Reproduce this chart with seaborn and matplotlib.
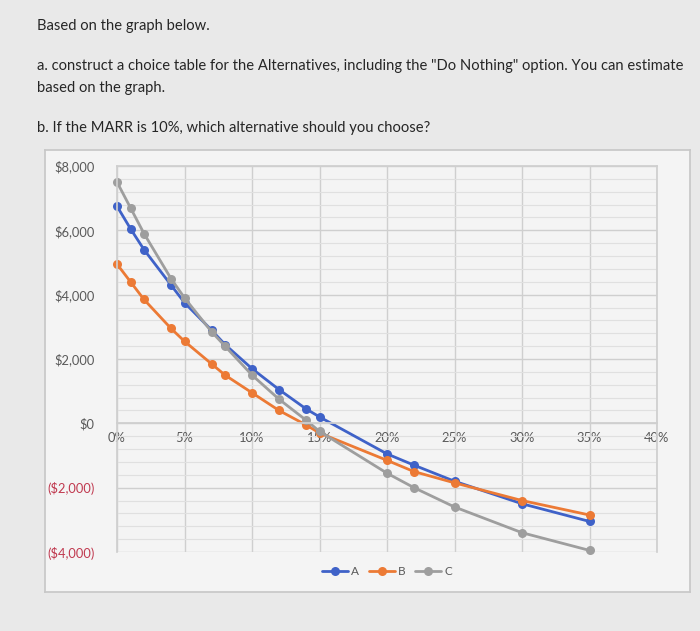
import numpy as np
import pandas as pd
import matplotlib
matplotlib.use("Agg")
import matplotlib.pyplot as plt
import seaborn as sns

# interest rate (%) and present worth of each alternative
rate = [0, 1, 2, 4, 5, 7, 8, 10, 12, 14, 15, 20, 22, 25, 30, 35]
pw_a = [6750, 6050, 5400, 4300, 3750, 2900, 2450, 1700, 1050, 450, 200,
        -950, -1300, -1800, -2500, -3050]
pw_b = [4950, 4400, 3850, 2950, 2550, 1850, 1500, 950, 400, -50, -300,
        -1150, -1500, -1850, -2400, -2850]
pw_c = [7500, 6700, 5900, 4500, 3900, 2850, 2400, 1500, 750, 100, -250,
        -1550, -2000, -2600, -3400, -3950]
series_names = ["A", "B", "C"]
colors = ["#3F62C8", "#EC7A35", "#9E9E9E"]

y_ticks = [-4000, -2000, 0, 2000, 4000, 6000, 8000]
x_ticks = [0, 5, 10, 15, 20, 25, 30, 35, 40]

df = pd.DataFrame({"rate": rate, "A": pw_a, "B": pw_b, "C": pw_c})
long = df.melt(id_vars="rate", var_name="alt", value_name="pw")

sns.set_theme(style="white")
plt.rcParams["font.family"] = ["Lato", "DejaVu Sans"]

fig = plt.figure(figsize=(7.0, 6.31), dpi=100)
fig.patch.set_facecolor("#e9e9e9")

# question text above the chart
txt_kw = dict(fontsize=10.6, color="#262626", ha="left", va="center")
fig.text(37 / 700, 1 - 26 / 631, "Based on the graph below.", **txt_kw)
fig.text(37 / 700, 1 - 66 / 631,
         'a. construct a choice table for the Alternatives, including the "Do Nothing" option. You can estimate',
         **txt_kw)
fig.text(37 / 700, 1 - 88 / 631, "based on the graph.", **txt_kw)
fig.text(37 / 700, 1 - 128 / 631,
         "b. If the MARR is 10%, which alternative should you choose?", **txt_kw)

# chart area box (drawn first so the plot sits on top)
box = fig.add_axes([45 / 700, 1 - 592 / 631, 645 / 700, 442 / 631])
box.set_facecolor("#f4f4f4")
box.set_xticks([])
box.set_yticks([])
for s in box.spines.values():
    s.set_color("#c8c8c8")

ax = fig.add_axes([117 / 700, 1 - 552 / 631, 540 / 700, 386 / 631])
ax.set_facecolor("#f4f4f4")

sns.lineplot(data=long, x="rate", y="pw", hue="alt", palette=colors,
             hue_order=series_names, marker="o", markersize=6.5,
             markeredgewidth=0, linewidth=2.0, ax=ax, legend=True)
for ln in ax.lines:
    ln.set_clip_on(False)

ax.set_xlim(0, 40)
ax.set_ylim(-4000, 8000)
ax.set_xticks(x_ticks)
ax.set_xticklabels([f"{v}%" for v in x_ticks])
ax.set_yticks(y_ticks)
ylabels = []
for v in y_ticks:
    if v < 0:
        ylabels.append(f"(${-v:,})")
    else:
        ylabels.append(f"${v:,}")
ax.set_yticklabels(ylabels)

ax.set_yticks(np.arange(-4000, 8001, 400), minor=True)
ax.grid(True, which="major", color="#cfcfcf", linewidth=1.0)
ax.grid(True, which="minor", axis="y", color="#e0e0e0", linewidth=0.8)
ax.set_axisbelow(True)

ax.spines["bottom"].set_position(("data", 0))
for s in ["bottom", "top", "right", "left"]:
    ax.spines[s].set_color("#cfcfcf")
ax.tick_params(axis="both", which="both", length=0, labelsize=9.3, colors="#595959")
ax.tick_params(axis="x", pad=6)
ax.tick_params(axis="y", pad=16)
for lab, v in zip(ax.get_yticklabels(), y_ticks):
    lab.set_color("#c0394f" if v < 0 else "#595959")
ax.set_xlabel("")
ax.set_ylabel("")

handles, labels = ax.get_legend_handles_labels()
ax.legend(handles, labels, loc="upper center", bbox_to_anchor=(0.5, -0.01),
          ncol=3, frameon=False, fontsize=8.5, handlelength=2.2,
          columnspacing=0.8, handletextpad=0.3, labelcolor="#595959")

fig.savefig("out.png", dpi=100, facecolor=fig.get_facecolor())
